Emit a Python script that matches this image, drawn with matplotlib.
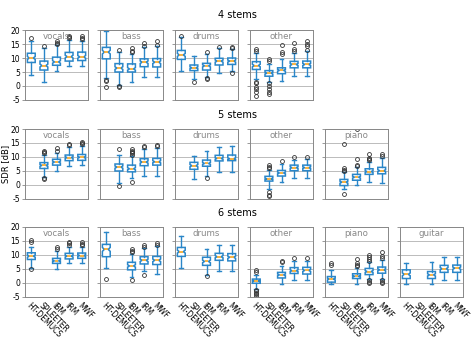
import numpy as np
import matplotlib.pyplot as plt

plt.rcParams['axes.unicode_minus'] = False

methods = ['HT-DEMUCS', 'SPLEETER', 'IBM', 'IRM', 'MWF']
sources_4 = ['vocals', 'bass', 'drums', 'other']
sources_5 = ['vocals', 'bass', 'drums', 'other', 'piano']
sources_6 = ['vocals', 'bass', 'drums', 'other', 'piano', 'guitar']
n_tracks = 100  # number of evaluated excerpts, sets the notch width

# ---- 4 stems: [source][method]
med_4 = [[10.0, 7.3, 8.6, 10.5, 10.4],
         [12.1, 6.4, 6.1, 8.5, 8.5],
         [11.1, 6.5, 7.2, 8.9, 8.9],
         [7.3, 4.6, 5.6, 7.7, 7.7]]
q1_4 = [[8.4, 5.7, 7.4, 8.9, 9.1],
        [9.7, 5.0, 5.0, 6.9, 6.8],
        [9.5, 5.5, 5.7, 7.5, 7.7],
        [5.9, 3.5, 4.4, 6.5, 6.5]]
q3_4 = [[11.7, 8.9, 10.3, 12.0, 12.1],
        [13.8, 8.0, 7.9, 9.7, 9.8],
        [12.7, 7.5, 8.1, 9.9, 10.0],
        [8.7, 5.5, 6.5, 8.8, 8.9]]
lo_4 = [[3.9, 1.4, 5.2, 7.0, 7.1],
        [3.0, 0.5, 1.3, 3.3, 3.3],
        [5.3, 2.5, 3.3, 4.5, 5.5],
        [2.4, 1.5, 1.7, 3.5, 3.4]]
hi_4 = [[16.0, 13.5, 14.5, 16.3, 16.0],
        [19.5, 12.3, 11.5, 14.0, 14.2],
        [17.5, 10.7, 11.5, 13.5, 13.3],
        [11.8, 8.0, 9.6, 11.8, 12.5]]
fl_4 = [[[17.0], [14.2], [15.0, 15.5, 16.0], [17.0, 17.5, 18.0], [16.8, 17.3, 17.8]],
        [[2.2, 1.7, -0.3], [13.0, 0.0, -0.3], [12.0, 12.5, 13.5], [14.3, 15.3], [14.5, 16.0]],
        [[18.0], [1.5], [12.3, 2.8, 2.5], [14.0], [13.7, 14.0, 4.7]],
        [[12.5, 13.1, 1.5, 1.0, -0.2, -1.0, -2.2, -3.5], [8.9, 9.5, 0.9, 0.0, -1.2, -2.3, -3.0],
         [11.5, 12.3, 14.5], [12.5, 13.3, 15.5], [13.0, 14.2, 15.0, 16.0]]]

# ---- 5 stems (no HT-DEMUCS)
med_5 = [[None, 7.0, 8.2, 9.8, 9.9],
         [None, 6.4, 5.8, 8.2, 8.3],
         [None, 6.9, 7.7, 9.5, 9.4],
         [None, 2.2, 4.3, 6.2, 6.2],
         [None, 1.0, 2.8, 4.8, 5.1]]
q1_5 = [[None, 5.9, 7.1, 8.7, 8.8],
        [None, 5.0, 4.7, 6.9, 7.1],
        [None, 5.6, 6.7, 8.6, 8.7],
        [None, 1.4, 3.2, 5.1, 5.1],
        [None, -0.2, 1.7, 3.8, 4.0]]
q3_5 = [[None, 8.0, 9.2, 10.7, 10.9],
        [None, 7.5, 7.1, 9.4, 9.5],
        [None, 8.1, 8.9, 10.6, 10.7],
        [None, 3.1, 5.2, 7.1, 7.1],
        [None, 2.0, 3.8, 5.8, 6.3]]
lo_5 = [[None, 3.0, 5.1, 6.9, 7.0],
        [None, 0.8, 2.5, 3.2, 3.3],
        [None, 2.3, 3.2, 4.6, 4.7],
        [None, -1.5, 1.2, 2.6, 2.5],
        [None, -1.5, 0.0, 1.0, 0.8]]
hi_5 = [[None, 10.8, 11.5, 13.5, 14.0],
        [None, 10.7, 10.3, 13.0, 13.3],
        [None, 10.3, 12.2, 13.5, 14.0],
        [None, 5.5, 7.5, 9.0, 9.3],
        [None, 4.5, 6.3, 8.3, 9.6]]
fl_5 = [[[], [11.3, 11.8, 12.3, 2.6, 2.3], [12.3, 13.2], [14.2, 14.8], [14.5, 15.0, 15.5]],
        [[], [13.0, -0.5], [10.8, 11.3, 11.8, 12.3, 12.8, 1.2], [13.5, 14.0], [13.8, 14.3]],
        [[], [], [2.5], [], []],
        [[], [6.0, 6.5, 7.0, -2.5, -3.5, -4.0], [8.4], [10.0], [10.0]],
        [[], [5.0, 5.5, 6.0, 14.8, -3.3], [6.8, 7.3, 9.3, 19.9], [8.8, 9.3, 9.8, 11.0], [10.3, 11.2]]]

# ---- 6 stems (no SPLEETER)
med_6 = [[9.6, None, 7.9, 9.6, 9.8],
         [12.0, None, 6.1, 8.1, 8.1],
         [11.2, None, 7.7, 9.4, 9.2],
         [0.7, None, 2.9, 4.4, 4.5],
         [1.4, None, 2.4, 4.1, 4.7],
         [3.1, None, 2.9, 5.1, 5.3]]
q1_6 = [[8.4, None, 7.0, 8.6, 8.8],
        [9.4, None, 4.7, 6.8, 6.6],
        [9.5, None, 6.3, 8.1, 7.9],
        [-0.1, None, 1.8, 3.4, 3.2],
        [0.3, None, 1.6, 3.0, 3.5],
        [1.6, None, 1.6, 3.8, 3.8]]
q3_6 = [[10.8, None, 8.8, 10.6, 10.7],
        [13.8, None, 7.4, 9.4, 9.5],
        [12.7, None, 9.2, 10.6, 10.5],
        [1.4, None, 3.8, 5.5, 5.6],
        [2.3, None, 3.3, 5.2, 5.7],
        [4.7, None, 4.1, 6.3, 6.4]]
lo_6 = [[5.5, None, 5.1, 7.0, 7.0],
        [5.2, None, 2.2, 4.2, 3.3],
        [5.3, None, 3.0, 4.4, 4.4],
        [-2.0, None, -0.3, 1.0, 1.0],
        [-0.5, None, -0.2, 1.5, 1.5],
        [-0.2, None, -0.2, 1.0, 1.1]]
hi_6 = [[12.8, None, 11.5, 13.0, 13.0],
        [18.2, None, 10.5, 12.5, 13.2],
        [16.8, None, 12.2, 13.5, 13.5],
        [3.0, None, 6.0, 7.8, 8.0],
        [4.8, None, 5.5, 7.5, 8.3],
        [7.2, None, 7.5, 9.3, 9.3]]
fl_6 = [[[14.5, 15.2, 5.0], [], [12.3, 12.9], [13.5, 14.2, 14.8], [13.5, 14.0, 14.5]],
        [[1.5], [], [11.0, 11.5, 12.0, 1.2], [13.0, 13.5, 3.0], [13.7, 14.2]],
        [[], [], [2.6], [], []],
        [[3.8, 4.6, -2.5, -3.0, -3.5, -4.0, -4.6], [], [7.5, 8.0], [8.8], [8.8]],
        [[6.3, 7.2], [], [6.0, 6.5, 7.0, 8.5], [8.0, 8.6, 9.2, 10.0, 1.0, 0.5, 0.0],
         [8.8, 9.5, 11.0, 1.0, 0.5, 0.0]],
        [[], [], [], [], []]]

rows = [
    ('4 stems', sources_4, med_4, q1_4, q3_4, lo_4, hi_4, fl_4),
    ('5 stems', sources_5, med_5, q1_5, q3_5, lo_5, hi_5, fl_5),
    ('6 stems', sources_6, med_6, q1_6, q3_6, lo_6, hi_6, fl_6),
]

blue = '#2a86c8'
W, H = 474, 338
col_x = [25, 100, 175, 250, 325, 400]
row_top = [30, 129, 227]
title_y = [15, 115, 213]
aw, ah = 63, 70

fig = plt.figure(figsize=(W / 100, H / 100), dpi=100)

for r, (name, sources, med, q1, q3, lo, hi, fl) in enumerate(rows):
    fig.text(0.5, 1 - title_y[r] / H, name, ha='center', va='center', fontsize=7)
    for i, src in enumerate(sources):
        ax = fig.add_axes([col_x[i] / W, 1 - (row_top[r] + ah) / H, aw / W, ah / H])
        stats, pos = [], []
        for j in range(len(methods)):
            if med[i][j] is None:
                continue
            half = 1.57 * (q3[i][j] - q1[i][j]) / np.sqrt(n_tracks)
            stats.append(dict(med=med[i][j], q1=q1[i][j], q3=q3[i][j],
                              whislo=lo[i][j], whishi=hi[i][j], fliers=fl[i][j],
                              cilo=med[i][j] - half, cihi=med[i][j] + half))
            pos.append(j + 1)
        ax.bxp(stats, positions=pos, widths=0.62, shownotches=True, patch_artist=True,
               boxprops=dict(facecolor='white', edgecolor=blue, linewidth=1.1),
               whiskerprops=dict(color=blue, linewidth=1.0),
               capprops=dict(color=blue, linewidth=1.0),
               medianprops=dict(color='#f5a623', linewidth=1.2),
               flierprops=dict(marker='o', markersize=2.8, markerfacecolor='none',
                               markeredgecolor='#333333', markeredgewidth=0.6))
        ax.set_xlim(0.5, 5.5)
        ax.set_ylim(-5, 20)
        ax.set_yticks([-5, 0, 5, 10, 15, 20])
        ax.yaxis.grid(True, color='#bbbbbb', linewidth=0.7)
        ax.set_axisbelow(True)
        for sp in ax.spines.values():
            sp.set_color('#888888')
            sp.set_linewidth(0.7)
        ax.tick_params(axis='y', length=2, width=0.6, color='#888888', labelsize=5.5, pad=1.5)
        if i > 0:
            ax.set_yticklabels([])
        ax.set_xticks(range(1, 6))
        if r == 2:
            ax.set_xticklabels(methods, rotation=-45, ha='left', rotation_mode='anchor', fontsize=5.5)
            ax.tick_params(axis='x', length=0, pad=3)
        else:
            ax.set_xticklabels([])
            ax.tick_params(axis='x', length=0)
        ax.text(0.5, 0.91, src, transform=ax.transAxes, ha='center', va='center',
                fontsize=6.2, color='#888888')

fig.text(6 / W, 1 - 164 / H, 'SDR [dB]', rotation=90, ha='center', va='center', fontsize=6)

fig.savefig('out.png', dpi=100)
